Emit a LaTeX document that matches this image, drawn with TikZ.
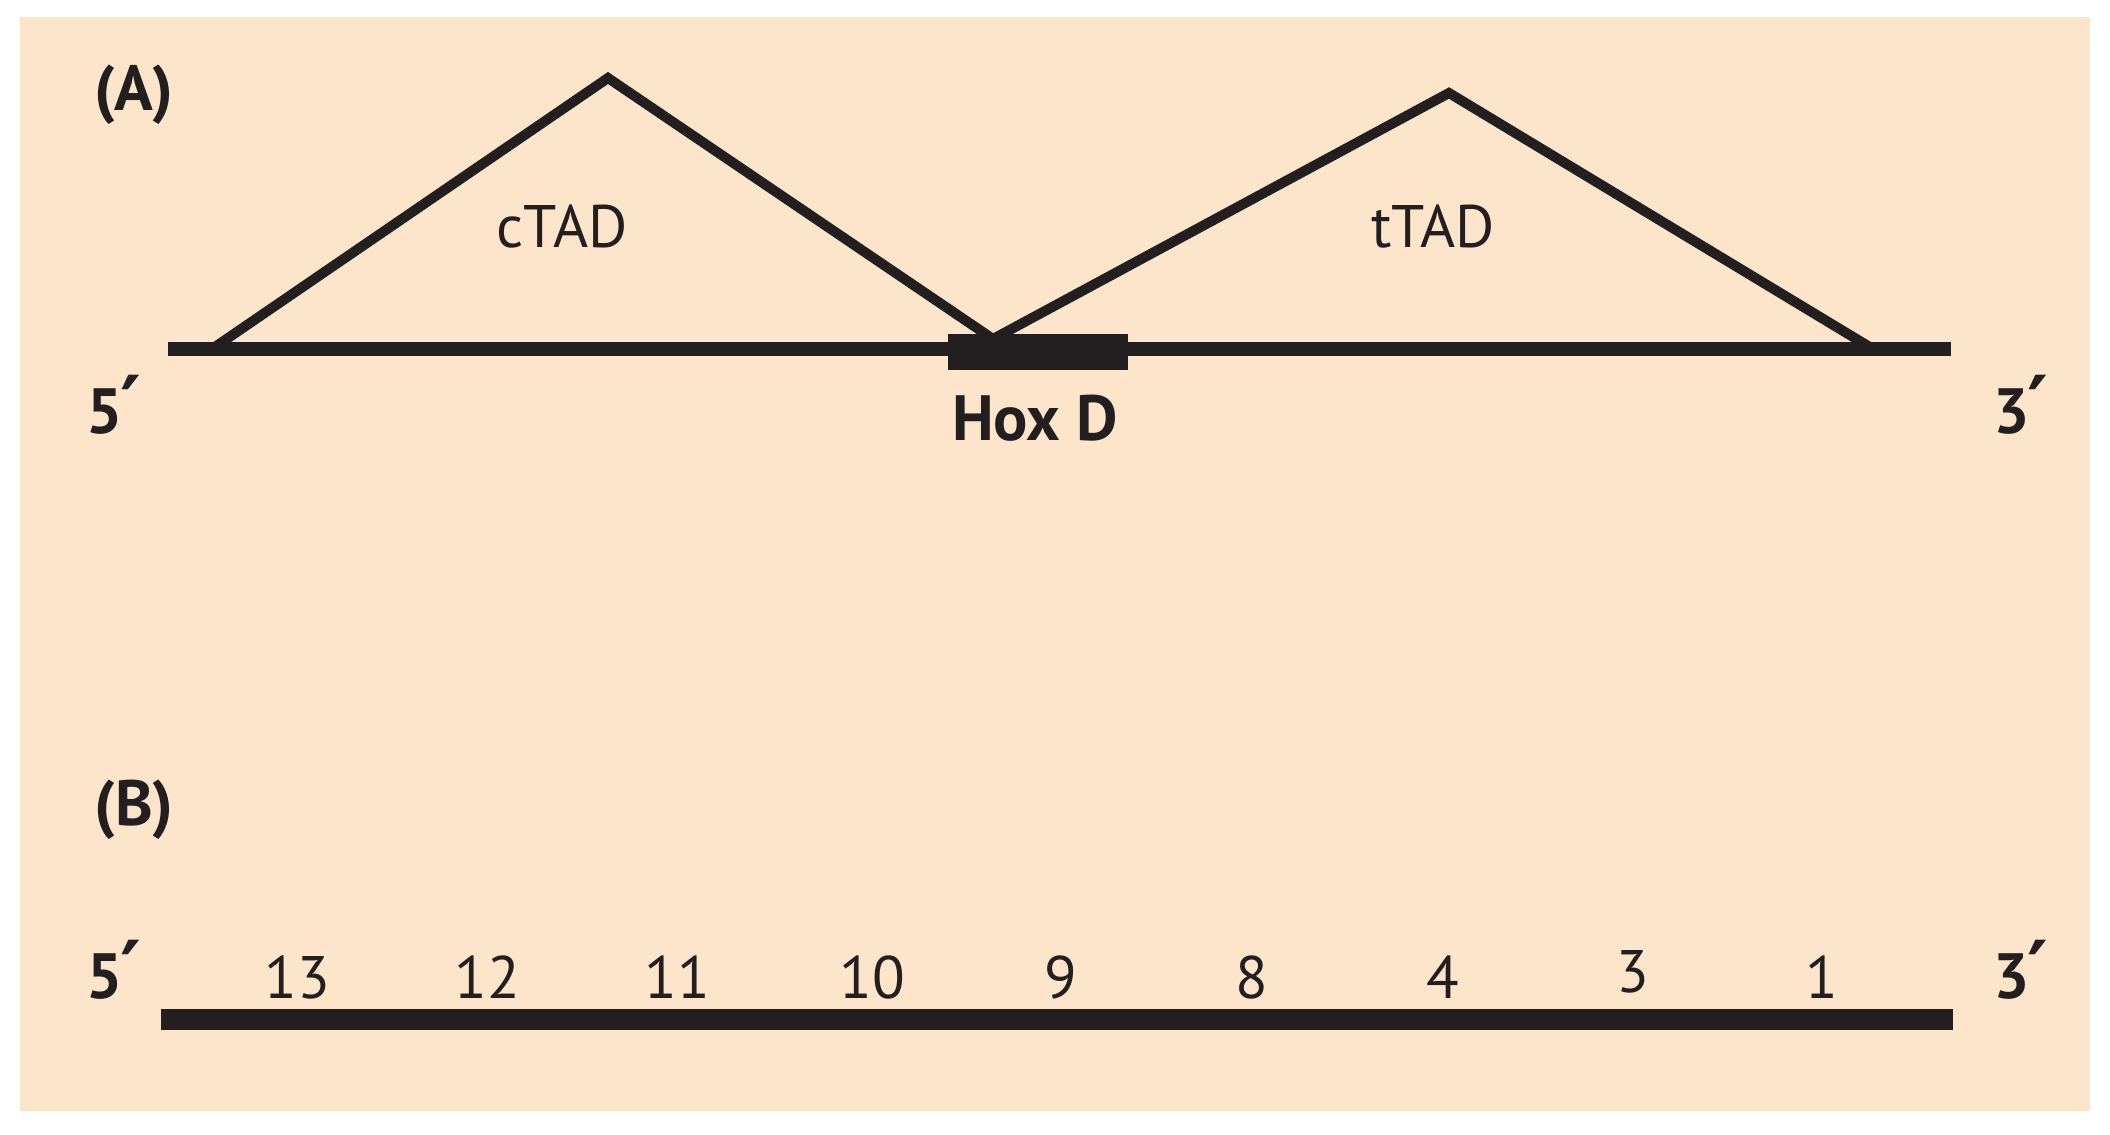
\documentclass[tikz,border=0pt]{standalone}
\usepackage{fontspec}
\setmainfont{PT Sans}
\newfontfamily\primefont{DejaVu Sans}
\newcommand{\pr}{\kern-2pt{\primefont\bfseries\fontsize{80}{80}\selectfont\char"2032}}
\definecolor{peach}{HTML}{FDE5CB}
\definecolor{ink}{HTML}{231F20}
\tikzset{
  lbl/.style={font=\fontsize{60}{60}\selectfont, text=ink, inner sep=0pt, anchor=base},
  blbl/.style={font=\fontsize{64}{64}\selectfont\bfseries, text=ink, inner sep=0pt, anchor=base},
  tad/.style={draw=ink, line width=10pt, line join=miter},
  chrom/.style={draw=ink, line width=14pt},
}
\begin{document}
\begin{tikzpicture}[x=1pt,y=-1pt]
\useasboundingbox (0,0) rectangle (2110,1135);
\fill[white] (0,0) rectangle (2110,1135);
\fill[peach] (20,17) rectangle (2090,1111);
% panel A
\coordinate (c1) at (212,349);
\coordinate (c2) at (608,78);
\coordinate (m) at (993,339);
\coordinate (t2) at (1449,93);
\coordinate (t3) at (1873,349);
\draw[tad] (c1) -- (c2) -- (m) -- (t2) -- (t3);
\coordinate (a5) at (168,349);
\coordinate (a3) at (1951,349);
\draw[chrom] (a5) -- (a3);
\fill[ink] (948,334) rectangle (1128,370);
\node[lbl] (ctad) at (562,247) {cTAD};
\node[lbl] (ttad) at (1433,247) {tTAD};
\node[blbl] (A) at (134,110) {(A)};
\node[blbl] (A5) at (114,433) {5\pr};
\node[blbl] (A3) at (2021,433) {3\pr};
\node[blbl] (hox) at (1035,440) {Hox D};
% panel B
\node[blbl] (B) at (134,825) {(B)};
\fill[ink] (161,1009) rectangle (1953,1030);
\node[blbl] (B5) at (114,998) {5\pr};
\node[blbl] (B3) at (2021,998) {3\pr};
\foreach \n/\x in {13/297,12/487,11/677,10/872,9/1061,8/1252,4/1443,1/1822}
  \node[lbl] (g\n) at (\x,998) {\n};
\node[lbl] (g3) at (1633,992) {3};
\end{tikzpicture}
\end{document}
